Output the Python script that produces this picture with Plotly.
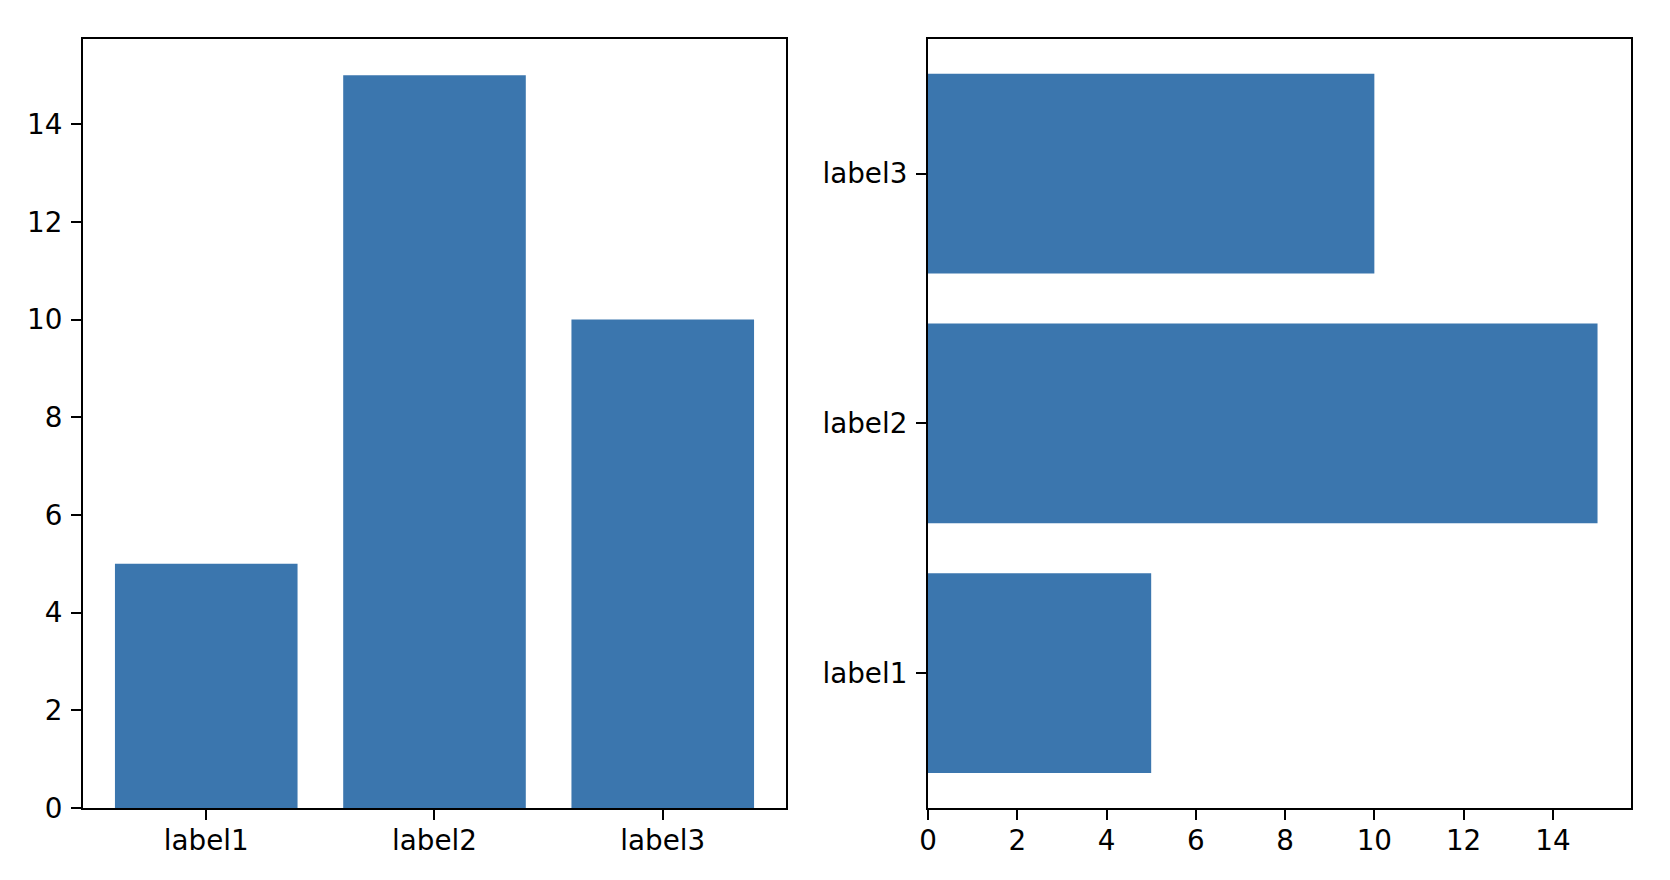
import plotly.graph_objects as go
from plotly.subplots import make_subplots

# Data
labels = ["label1", "label2", "label3"]
values = [5, 15, 10]
ticks = [0, 2, 4, 6, 8, 10, 12, 14]

bar_color = "#3b76ae"

fig = make_subplots(rows=1, cols=2)

# vertical bars
fig.add_trace(go.Bar(x=labels, y=values, width=0.8, marker=dict(color=bar_color, line=dict(width=0)),
                     showlegend=False), row=1, col=1)
# horizontal bars
fig.add_trace(go.Bar(x=values, y=labels, orientation="h", width=0.8,
                     marker=dict(color=bar_color, line=dict(width=0)),
                     showlegend=False), row=1, col=2)

axis_style = dict(showline=True, linecolor="black", linewidth=2.2, mirror=True,
                  ticks="outside", ticklen=10, tickwidth=2.2, tickcolor="black",
                  showgrid=False, zeroline=False, automargin=False,
                  tickfont=dict(family="DejaVu Sans", size=27.8, color="black"))

fig.update_xaxes(axis_style, ticklabelstandoff=-3)
fig.update_yaxes(axis_style, ticklabelstandoff=3)

# page body has a small margin, so domains are shifted to compensate
fig.update_layout(
    width=1670, height=880,
    margin=dict(l=0, r=0, t=0, b=0),
    plot_bgcolor="white", paper_bgcolor="white",
    xaxis=dict(domain=[0.04491, 0.46587], range=[-0.54, 2.54]),
    yaxis=dict(domain=[0.09091, 0.96511], range=[0, 15.75], tickvals=ticks),
    xaxis2=dict(domain=[0.55090, 0.97186], range=[0, 15.75], tickvals=ticks),
    yaxis2=dict(domain=[0.09091, 0.96511], range=[-0.54, 2.54]),
)

fig.write_html("out.html")
